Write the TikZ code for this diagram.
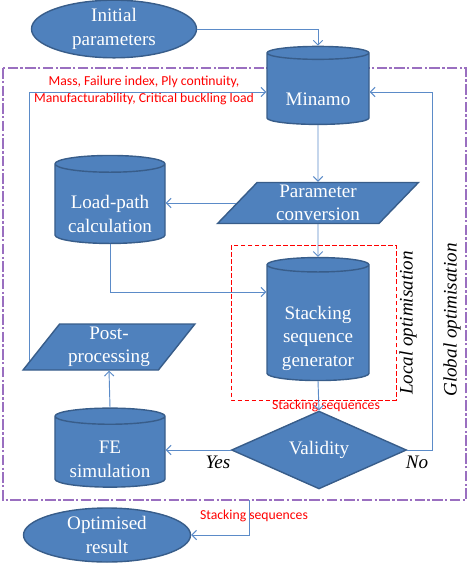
\documentclass[tikz,border=0pt]{standalone}
\usepackage{fontspec}
\setmainfont{Liberation Serif}
\newfontfamily\labelfont{Carlito}
\usetikzlibrary{shapes.geometric,arrows.meta,calc}
\definecolor{boxblue}{HTML}{4F81BD}
\definecolor{edgeblue}{HTML}{385D8A}
\definecolor{lineblue}{HTML}{5B8BC8}
\definecolor{loopviolet}{HTML}{9A6FC0}
\tikzset{>={Straight Barb[length=4pt,width=8pt]}}
\tikzset{
  block/.style={fill=boxblue, draw=edgeblue, line width=1.2pt, text=white,
    font=\fontsize{16.3}{20}\selectfont, align=center, inner sep=0pt},
  store/.style={block, cylinder, shape border rotate=90, aspect=0.2},
  io/.style={block, trapezium, trapezium left angle=53, trapezium right angle=127,
    trapezium stretches=true},
  term/.style={block, ellipse},
  test/.style={block, diamond},
  flow/.style={draw=lineblue, line width=0.8pt, ->},
  note/.style={text=red, font=\labelfont\fontsize{11.7}{14.5}\selectfont, align=center},
  answer/.style={font=\itshape\fontsize{16.3}{20}\selectfont},
}

\begin{document}
\begin{tikzpicture}[x=0.03cm, y=-0.03cm]
\useasboundingbox (0,0) rectangle (474,570);
% loops
\draw [loopviolet, line width=1pt, dash pattern=on 9pt off 2pt on 2pt off 2pt] (3,68) rectangle (466,500);
\draw [red, line width=0.8pt, dash pattern=on 4pt off 2pt] (231,245) rectangle (396,400);
% blocks
\node [term, minimum width=4.95cm, minimum height=1.68cm] (init) at (114,29) {Initial\\parameters};
\node [store, text height=28pt, minimum width=3.06cm, minimum height=2.34cm] (minamo) at (318,89) {Minamo};
\node [io, minimum width=6.03cm, minimum height=1.23cm] (paramconv) at (318,203) {Parameter\\conversion};
\node [store, text height=48pt, minimum width=3.3cm, minimum height=2.64cm] (loadpath) at (110,204) {Load-path\\calculation};
\node [store, text height=77pt, minimum width=3.06cm, minimum height=3.69cm] (stacking) at (318,323) {Stacking\\sequence\\generator};
\node [test, minimum width=5.25cm, minimum height=1.65cm] (validity) at (319,450) {Validity};
\node [store, text height=43pt, minimum width=3.3cm, minimum height=2.37cm] (fesim) at (110,452) {FE\\simulation};
\node [io, minimum width=5.16cm, minimum height=1.38cm] (postproc) at (109,347) {Post-\\processing};
\node [term, minimum width=5.01cm, minimum height=1.62cm] (result) at (107,535) {Optimised\\result};
\coordinate (gout) at (249,500);
% labels
\node [note] (objlbl) at (144,90) {Mass, Failure index, Ply continuity,\\Manufacturability, Critical buckling load};
\node [note] (seqlbl) at (326,406) {Stacking sequences};
\node [note] (outlbl) at (254,516) {Stacking sequences};
\node [answer] (yes) at (218,462) {Yes};
\node [answer] (no) at (417,462) {No};
\node [answer, rotate=90] (local) at (408,323) {Local optimisation};
\node [answer, rotate=90] (global) at (452,320) {Global optimisation};
% connectors
\draw [flow] (init.east) -| (minamo.north);
\draw [flow] (minamo.south) -- (paramconv.north);
\draw [flow] (paramconv.west) -- (paramconv.west -| loadpath.east);
\draw [flow] (loadpath.south) |- ([yshift=0.93cm]stacking.west);
\draw [flow] (paramconv.south) -- (stacking.north);
\draw [flow] (stacking.south) -- (validity.north);
\draw [flow] (validity.west) -- (validity.west -| fesim.east);
\draw [flow] (fesim.north) -- (postproc.south);
\draw [flow] ($(postproc.bottom left corner)!0.2!(postproc.top left corner)$) |- ([yshift=-0.09cm]minamo.west);
\draw [flow] (validity.east) -- ++(25,0) |- ([yshift=-0.09cm]minamo.east);
\draw [flow] (gout) |- (result.east);
\end{tikzpicture}
\end{document}
